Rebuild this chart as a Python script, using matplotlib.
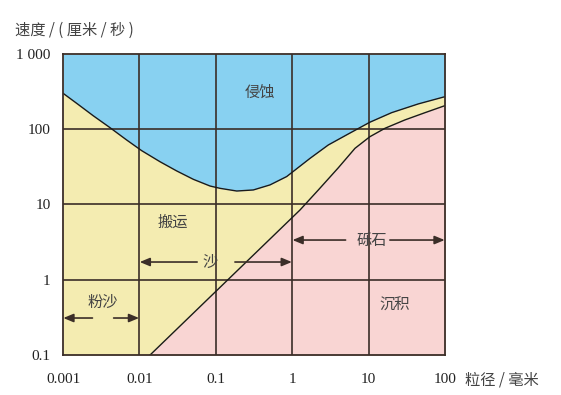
import matplotlib
matplotlib.use("Agg")
import matplotlib.pyplot as plt

plt.rcParams['font.family'] = ['Noto Sans CJK SC', 'DejaVu Sans']

# Erosion (upper) curve: grain size (mm), velocity (cm/s)
erosion_x = [0.001, 0.00151, 0.00249, 0.00412, 0.00682, 0.01072, 0.01862, 0.0308, 0.0508,
             0.084, 0.1135, 0.188, 0.31, 0.512, 0.847, 1.71, 2.97, 5.42, 10.4, 20.0, 44.7, 100]
erosion_y = [301, 221, 151, 105, 71.9, 51.9, 37.0, 27.9, 21.6,
             17.6, 16.4, 15.1, 15.6, 18.2, 23.5, 41.0, 61.8, 86.5, 124, 166, 217, 271]

# Deposition (lower) curve
depo_x = [0.0138, 1.265, 2.20, 4.02, 6.64, 10.4, 16.4, 29.9, 54.7, 100]
depo_y = [0.1, 8.45, 15.6, 30.8, 55.8, 79.6, 103, 133, 166, 206]

x_ticks = [0.001, 0.01, 0.1, 1, 10, 100]
x_tick_labels = ['0.001', '0.01', '0.1', '1', '10', '100']
y_ticks = [0.1, 1, 10, 100, 1000]
y_tick_labels = ['0.1', '1', '10', '100', '1 000']

BLUE = '#88d1f1'
YELLOW = '#f4ecb1'
PINK = '#f9d5d3'
GRID = '#3b2e28'
TXT = '#444444'

fig = plt.figure(figsize=(5.61, 3.95), dpi=100)
ax = fig.add_axes([0.1123, 0.1013, 0.6809, 0.7620])
ax.set_xscale('log')
ax.set_yscale('log')
ax.set_xlim(0.001, 100)
ax.set_ylim(0.1, 1000)

ax.fill_between(erosion_x, erosion_y, 1000, color=BLUE, lw=0, zorder=1)
ax.fill_between(erosion_x, 0.1, erosion_y, color=YELLOW, lw=0, zorder=1)
ax.fill_between(depo_x, 0.1, depo_y, color=PINK, lw=0, zorder=2)

for gx in x_ticks[1:-1]:
    ax.axvline(gx, color=GRID, lw=1.2, zorder=3)
for gy in y_ticks[1:-1]:
    ax.axhline(gy, color=GRID, lw=1.2, zorder=3)

ax.plot(erosion_x, erosion_y, color='#1a1a1a', lw=1.0, zorder=4)
ax.plot(depo_x, depo_y, color='#1a1a1a', lw=1.0, zorder=4)

for s in ax.spines.values():
    s.set_color(GRID)
    s.set_linewidth(1.3)
    s.set_zorder(5)

ax.set_xticks(x_ticks)
ax.set_xticklabels(x_tick_labels)
ax.set_yticks(y_ticks)
ax.set_yticklabels(y_tick_labels)
ax.minorticks_off()
ax.tick_params(length=0, labelsize=11, colors='#222222')
ax.tick_params(axis='x', pad=13)
ax.tick_params(axis='y', pad=9)
for lab in ax.get_xticklabels() + ax.get_yticklabels():
    lab.set_family(['Liberation Serif'])

fs = 11
ax.text(0.379, 312, '侵蚀', fontsize=fs, color=TXT, ha='center', va='center', zorder=6)
ax.text(0.0275, 5.85, '搬运', fontsize=fs, color=TXT, ha='center', va='center', zorder=6)
ax.text(22.1, 0.46, '沉积', fontsize=fs, color=TXT, ha='center', va='center', zorder=6)
ax.text(0.084, 1.72, '沙', fontsize=fs, color=TXT, ha='center', va='center', zorder=6)
ax.text(0.00334, 0.506, '粉沙', fontsize=fs, color=TXT, ha='center', va='center', zorder=6)
ax.text(11.1, 3.37, '砾石', fontsize=fs, color=TXT, ha='center', va='center', zorder=6)

arrow_kw = dict(arrowstyle='-|>,head_length=0.6,head_width=0.25', color=GRID, lw=1.2,
                shrinkA=0, shrinkB=0)
def arrow(x0, x1, y):
    ax.annotate('', xy=(x1, y), xytext=(x0, y), arrowprops=arrow_kw, zorder=6)

arrow(0.057, 0.0101, 1.72)
arrow(0.178, 0.99, 1.72)
arrow(0.00243, 0.00101, 0.31)
arrow(0.0046, 0.0099, 0.31)
arrow(5.0, 1.01, 3.37)
arrow(19.0, 99, 3.37)

fig.text(15 / 561, 1 - 30 / 395, '速度 / ( 厘米 / 秒 )', fontsize=11, color=TXT, ha='left', va='center')
fig.text(465 / 561, 1 - 380 / 395, '粒径 / 毫米', fontsize=11, color=TXT, ha='left', va='center')

fig.savefig('out.png', dpi=100)
